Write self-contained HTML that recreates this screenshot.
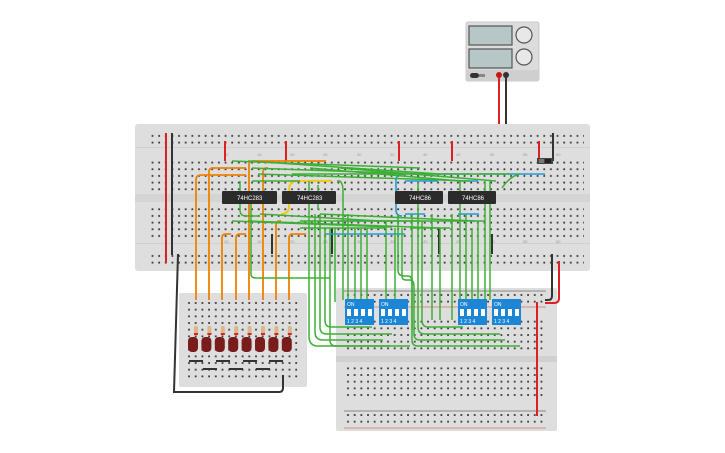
<!DOCTYPE html>
<html><head><meta charset="utf-8"><style>
html,body{margin:0;padding:0;background:#fff;width:725px;height:453px;overflow:hidden}
svg{display:block}
text{font-family:"Liberation Sans",sans-serif}
</style></head><body>
<svg width="725" height="453" viewBox="0 0 725 453" xmlns="http://www.w3.org/2000/svg">
<defs>
<pattern id="d" x="150" y="0" width="6.64" height="6.67" patternUnits="userSpaceOnUse"><rect x="1.6" y="1.6" width="1.8" height="1.8" fill="#3a3a3a"/></pattern>
<pattern id="d2" x="187.5" y="301.5" width="6.7" height="6.67" patternUnits="userSpaceOnUse"><rect x="0.6" y="0.6" width="1.8" height="1.8" fill="#3a3a3a"/></pattern>
<pattern id="d3" x="346.5" y="0" width="6.67" height="6.67" patternUnits="userSpaceOnUse"><rect x="0.6" y="0.6" width="1.8" height="1.8" fill="#3a3a3a"/></pattern>
</defs>

<!-- power supply -->
<rect x="466" y="22" width="73" height="59" rx="2" fill="#dcdcdc" stroke="#c8c8c8"/>
<rect x="469" y="26" width="43" height="19" fill="#b7c6c6" stroke="#555" stroke-width="1.2"/>
<rect x="469" y="49" width="43" height="19" fill="#b7c6c6" stroke="#555" stroke-width="1.2"/>
<circle cx="524" cy="35" r="8" fill="#e8e8e8" stroke="#555" stroke-width="1.2"/>
<circle cx="524" cy="57" r="8" fill="#e8e8e8" stroke="#555" stroke-width="1.2"/>
<rect x="466" y="70" width="73" height="11" fill="#cfcfcf"/>
<rect x="470" y="73" width="9" height="5" rx="2.5" fill="#333"/>
<rect x="479" y="74" width="6" height="3" fill="#888"/>
<line x1="499" y1="75" x2="499" y2="140" stroke="#e02020" stroke-width="2"/>
<line x1="506" y1="75" x2="506" y2="134" stroke="#333" stroke-width="2"/>
<circle cx="499" cy="75" r="3" fill="#c21818"/>
<circle cx="506" cy="75" r="3" fill="#333"/>

<!-- main breadboard -->
<rect x="135" y="124" width="455" height="147" rx="3" fill="#dedede"/>
<rect x="135" y="147" width="455" height="1" fill="#cfcfcf"/>
<rect x="135" y="243" width="455" height="1" fill="#cfcfcf"/>
<rect x="135" y="194" width="455" height="8" fill="#d4d4d4"/>
<rect x="148" y="131" width="436" height="14" fill="url(#d)"/>
<rect x="148" y="158" width="436" height="34" fill="url(#d)"/>
<rect x="148" y="205" width="436" height="33" fill="url(#d)"/>
<rect x="148" y="251" width="436" height="14" fill="url(#d)"/>
<g fill="#999" font-size="4">
<text x="171" y="156">5</text><text x="224" y="156">10</text><text x="257" y="156">15</text><text x="290" y="156">20</text><text x="323" y="156">25</text><text x="357" y="156">30</text><text x="390" y="156">35</text><text x="423" y="156">40</text><text x="456" y="156">45</text><text x="490" y="156">50</text><text x="523" y="156">55</text><text x="556" y="156">60</text>
<text x="171" y="243">5</text><text x="224" y="243">10</text><text x="257" y="243">15</text><text x="290" y="243">20</text><text x="323" y="243">25</text><text x="357" y="243">30</text><text x="390" y="243">35</text><text x="423" y="243">40</text><text x="456" y="243">45</text><text x="490" y="243">50</text><text x="523" y="243">55</text><text x="556" y="243">60</text>
</g>

<!-- LED board -->
<rect x="179" y="293" width="128" height="94" rx="2" fill="#dedede"/>
<rect x="186" y="300" width="114" height="79" fill="url(#d2)"/>

<!-- bottom board -->
<rect x="336" y="288" width="221" height="143" rx="2" fill="#dedede"/>
<rect x="336" y="356" width="221" height="6" fill="#d0d0d0"/>
<rect x="344" y="293" width="202" height="12" fill="url(#d3)"/>
<rect x="344" y="320" width="202" height="33" fill="url(#d3)"/>
<rect x="344" y="367" width="202" height="33" fill="url(#d3)"/>
<rect x="344" y="414" width="202" height="12" fill="url(#d3)"/>
<line x1="344" y1="291" x2="546" y2="291" stroke="#333" stroke-width="0.6"/>
<line x1="344" y1="307" x2="546" y2="307" stroke="#c33" stroke-width="0.6"/>
<line x1="344" y1="411" x2="546" y2="411" stroke="#333" stroke-width="0.6"/>
<line x1="344" y1="428" x2="546" y2="428" stroke="#c33" stroke-width="0.6"/>

<!-- power rail wires -->
<g stroke-width="2" fill="none">
<line x1="166" y1="133" x2="166" y2="263" stroke="#e02020"/>
<line x1="172" y1="133" x2="172" y2="255" stroke="#333"/>
<line x1="225" y1="141" x2="225" y2="161" stroke="#e02020"/>
<line x1="286" y1="141" x2="286" y2="161" stroke="#e02020"/>
<line x1="399" y1="141" x2="399" y2="161" stroke="#e02020"/>
<line x1="452" y1="141" x2="452" y2="161" stroke="#e02020"/>
<line x1="539" y1="141" x2="539" y2="161" stroke="#e02020"/>
<line x1="553" y1="133" x2="553" y2="161" stroke="#333"/>
<line x1="272" y1="234" x2="272" y2="254" stroke="#333"/>
<line x1="332" y1="228" x2="332" y2="254" stroke="#333"/>
<line x1="439" y1="228" x2="439" y2="254" stroke="#333"/>
<line x1="492" y1="234" x2="492" y2="254" stroke="#333"/>
<path d="M178 254 L174 392 L279 392 Q283 392 283 388 L283 375" stroke="#333"/>
<path d="M552 254 L552 296 Q552 300 548 300 L545 300" stroke="#333"/>
<path d="M559 261 L559 298 Q559 303 554 303 L545 303" stroke="#e02020"/>
<line x1="537" y1="302" x2="537" y2="416" stroke="#e02020"/>
</g>
<rect x="537" y="158" width="16" height="6" fill="#444"/><rect x="545" y="159" width="6" height="4" fill="#222"/><rect x="539" y="159" width="5" height="4" fill="#777"/>

<!-- blue wires -->
<g stroke="#1e9be0" stroke-width="1.6" fill="none">
<path d="M405 174 Q396 174 396 180 L396 210 Q396 216 402 216"/>
<line x1="425" y1="174" x2="470" y2="174"/>
<line x1="479" y1="174" x2="545" y2="174"/>
<line x1="405" y1="214" x2="425" y2="214"/>
<line x1="458" y1="214" x2="479" y2="214"/>
<line x1="405" y1="181" x2="438" y2="181"/>
<line x1="458" y1="181" x2="478" y2="181"/>
<line x1="325" y1="234" x2="405" y2="234"/>
</g>
<!-- yellow -->
<path d="M298 181 Q289 181 289 190 L289 206 Q289 214 281 214" stroke="#f0c800" stroke-width="1.8" fill="none"/>
<line x1="298" y1="181" x2="332" y2="181" stroke="#f0c800" stroke-width="1.8"/>

<!-- orange wires -->
<g stroke="#f08000" stroke-width="1.8" fill="none">
<path d="M196 300 L196 180 Q196 175 201 175 L246 175"/>
<path d="M209 300 L209 172 Q209 168 213 168 L246 168"/>
<path d="M222 300 L222 238 Q222 234 226 234 L231 234"/>
<path d="M236 300 L236 238 Q236 234 240 234 L246 234"/>
<path d="M249 300 L249 165 Q249 161 253 161 L326 161"/>
<path d="M263 300 L263 172 Q263 168 267 168 L268 168"/>
<path d="M276 300 L276 225 Q276 221 280 221 L281 221"/>
<path d="M289 300 L289 238 Q289 234 293 234 L306 234"/>
</g>

<!-- green wires -->
<g stroke="#3cb035" stroke-width="1.5" fill="none">
<line x1="232" y1="161" x2="420" y2="168"/>
<line x1="248" y1="161" x2="440" y2="174"/>
<line x1="252" y1="168" x2="420" y2="174"/>
<line x1="258" y1="174" x2="470" y2="181"/>
<line x1="292" y1="174" x2="510" y2="174"/>
<line x1="310" y1="168" x2="460" y2="181"/>
<line x1="340" y1="168" x2="496" y2="181"/>
<line x1="252" y1="181" x2="300" y2="181"/>
<line x1="232" y1="221" x2="392" y2="227"/>
<line x1="248" y1="221" x2="440" y2="228"/>
<line x1="260" y1="214" x2="380" y2="221"/>
<line x1="300" y1="221" x2="420" y2="221"/>
<line x1="320" y1="214" x2="475" y2="221"/>
<line x1="300" y1="228" x2="385" y2="228"/>
<line x1="340" y1="221" x2="390" y2="221"/>
<line x1="380" y1="221" x2="485" y2="221"/>
<line x1="410" y1="228" x2="450" y2="228"/>
<path d="M240 181 L240 210 Q240 216 246 216 L260 216"/>
<path d="M251 200 L251 274 Q251 278 256 278 L330 278"/>
<path d="M264 200 L264 190"/>
<path d="M318 185 L318 210"/>
<path d="M309 181 L309 336 Q309 346 318 346 L390 346"/>
<path d="M315 214 L315 332 Q315 340 323 340 L383 340"/>
<path d="M320 214 L320 327 Q320 334 327 334 L392 334"/>
<path d="M325 228 L325 320 Q325 327 331 327 L372 327"/>
<path d="M330 228 L330 340 Q330 346 336 346 L410 346"/>
<path d="M335 228 L335 302"/>
<path d="M337 181 L340 181 Q343 184 343 190 L343 300"/>
<path d="M348 214 L348 300"/>
<path d="M355 228 L355 300"/>
<path d="M361 228 L361 300"/>
<path d="M367 228 L367 300"/>
<path d="M386 221 L386 300"/>
<path d="M395 228 L395 300"/>
<path d="M398 214 L398 270 Q398 276 404 276 L408 276 Q412 276 412 282 L412 340 Q412 346 418 346 L520 346"/>
<path d="M402 228 L402 276 Q402 280 406 280 L410 280 Q414 280 414 286 L414 334 Q414 340 420 340 L505 340"/>
<path d="M412 214 L412 330"/>
<path d="M418 181 L418 327 Q418 334 425 334 L500 334"/>
<path d="M422 221 L422 320 Q422 327 428 327 L463 327"/>
<path d="M432 214 L432 320"/>
<path d="M440 228 L440 320"/>
<path d="M452 214 L452 320"/>
<path d="M460 181 L460 320"/>
<path d="M466 214 L466 300"/>
<path d="M472 228 L472 300"/>
<path d="M478 221 L478 300"/>
<path d="M485 181 L485 300"/>
<path d="M490 181 L490 300"/>
<path d="M502 188 Q510 176 520 174"/>
</g>

<!-- chips -->
<g>
<rect x="222" y="191" width="55" height="13" rx="1" fill="#2b2b2b"/>
<rect x="282" y="191" width="54" height="13" rx="1" fill="#2b2b2b"/>
<rect x="395" y="191" width="48" height="13" rx="1" fill="#2b2b2b"/>
<rect x="448" y="191" width="48" height="13" rx="1" fill="#2b2b2b"/>
<g fill="#fff" font-size="6"><text x="237" y="200">74HC283</text><text x="297" y="200">74HC283</text><text x="409" y="200">74HC86</text><text x="462" y="200">74HC86</text></g>
</g>

<!-- DIP switches -->
<g font-size="5" fill="#fff">
<g transform="translate(345,299)"><rect width="29" height="26" fill="#1c86d6"/><text x="2" y="7">ON</text><g fill="#fff"><rect x="2" y="10" width="4" height="7"/><rect x="9" y="10" width="4" height="7"/><rect x="16" y="10" width="4" height="7"/><rect x="23" y="10" width="4" height="7"/></g><text x="2" y="24">1 2 3 4</text></g>
<g transform="translate(379,299)"><rect width="29" height="26" fill="#1c86d6"/><text x="2" y="7">ON</text><rect x="2" y="10" width="4" height="7"/><rect x="9" y="10" width="4" height="7"/><rect x="16" y="10" width="4" height="7"/><rect x="23" y="10" width="4" height="7"/><text x="2" y="24">1 2 3 4</text></g>
<g transform="translate(458,299)"><rect width="29" height="26" fill="#1c86d6"/><text x="2" y="7">ON</text><rect x="2" y="10" width="4" height="7"/><rect x="9" y="10" width="4" height="7"/><rect x="16" y="10" width="4" height="7"/><rect x="23" y="10" width="4" height="7"/><text x="2" y="24">1 2 3 4</text></g>
<g transform="translate(492,299)"><rect width="29" height="26" fill="#1c86d6"/><text x="2" y="7">ON</text><rect x="2" y="10" width="4" height="7"/><rect x="9" y="10" width="4" height="7"/><rect x="16" y="10" width="4" height="7"/><rect x="23" y="10" width="4" height="7"/><text x="2" y="24">1 2 3 4</text></g>
</g>

<!-- resistors & LEDs -->
<g>
<g id="l"><rect x="194" y="326" width="4" height="9" rx="1.5" fill="#d8b888"/><rect x="194" y="333" width="4" height="2" fill="#d22"/><rect x="188" y="337" width="10" height="15" rx="4" fill="#7a1c1c"/></g>
<use href="#l" x="13.4"/><use href="#l" x="26.8"/><use href="#l" x="40.2"/><use href="#l" x="53.6"/><use href="#l" x="67"/><use href="#l" x="80.4"/><use href="#l" x="93.8"/>
<g fill="#333"><rect x="189" y="360" width="14" height="2"/><rect x="216" y="360" width="14" height="2"/><rect x="243" y="360" width="14" height="2"/><rect x="269" y="360" width="14" height="2"/><rect x="203" y="368" width="14" height="2"/><rect x="229" y="368" width="14" height="2"/><rect x="256" y="368" width="14" height="2"/></g>
</g>
</svg>
</body></html>
